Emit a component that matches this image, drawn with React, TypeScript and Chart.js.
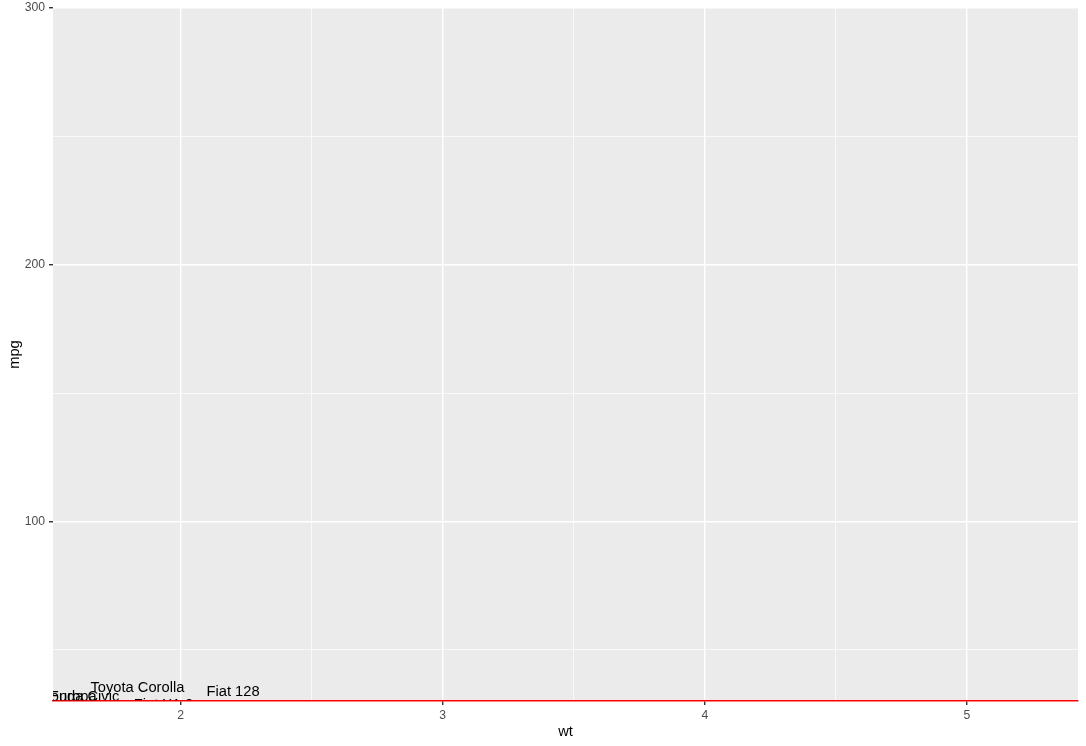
import { useEffect, useRef } from "react";
import { Chart, registerables, type Plugin } from "chart.js";

Chart.register(...registerables);

// mtcars: car names, weight (1000 lbs) and miles per gallon
const CARS = [
  "Mazda RX4", "Mazda RX4 Wag", "Datsun 710", "Hornet 4 Drive", "Hornet Sportabout",
  "Valiant", "Duster 360", "Merc 240D", "Merc 230", "Merc 280", "Merc 280C",
  "Merc 450SE", "Merc 450SL", "Merc 450SLC", "Cadillac Fleetwood", "Lincoln Continental",
  "Chrysler Imperial", "Fiat 128", "Honda Civic", "Toyota Corolla", "Toyota Corona",
  "Dodge Challenger", "AMC Javelin", "Camaro Z28", "Pontiac Firebird", "Fiat X1-9",
  "Porsche 914-2", "Lotus Europa", "Ford Pantera L", "Ferrari Dino", "Maserati Bora",
  "Volvo 142E",
];
const WT = [
  2.62, 2.875, 2.32, 3.215, 3.44, 3.46, 3.57, 3.19, 3.15, 3.44, 3.44,
  4.07, 3.73, 3.78, 5.25, 5.424, 5.345, 2.2, 1.615, 1.835, 2.465,
  3.52, 3.435, 3.84, 3.845, 1.935, 2.14, 1.513, 3.17, 2.77, 3.57, 2.78,
];
const MPG = [
  21.0, 21.0, 22.8, 21.4, 18.7, 18.1, 14.3, 24.4, 22.8, 19.2, 17.8,
  16.4, 17.3, 15.2, 10.4, 10.4, 14.7, 32.4, 30.4, 33.9, 21.5,
  15.5, 15.2, 13.3, 19.2, 27.3, 26.0, 30.4, 15.8, 19.7, 15.0, 21.4,
];

const X_TICKS = [2, 2.5, 3, 3.5, 4, 4.5, 5];
const Y_TICKS = [50, 100, 150, 200, 250, 300];
const X_RANGE = [1.513, 5.424];
const Y_RANGE = [30, 300];

const FONT = '"Liberation Sans", Arial, sans-serif';

const panelBg: Plugin = {
  id: "panelBg",
  beforeDraw(chart) {
    const { ctx, chartArea: a } = chart;
    ctx.save();
    ctx.fillStyle = "#EBEBEB";
    ctx.fillRect(a.left, a.top, a.right - a.left, a.bottom - a.top);
    ctx.restore();
  },
};

// geom_text style labels, clipped to the panel
const textLabels: Plugin = {
  id: "textLabels",
  afterDatasetsDraw(chart) {
    const { ctx, chartArea: a } = chart;
    const meta = chart.getDatasetMeta(0);
    ctx.save();
    ctx.beginPath();
    ctx.rect(a.left, a.top, a.right - a.left, a.bottom - a.top - 0.7);
    ctx.clip();
    ctx.font = `14.7px ${FONT}`;
    ctx.fillStyle = "#000000";
    ctx.textAlign = "center";
    ctx.textBaseline = "middle";
    meta.data.forEach((pt, i) => {
      ctx.fillText(CARS[i], pt.x, pt.y - 3);
    });
    ctx.restore();
  },
};

const isMajorX = (v: number) => Number.isInteger(v);
const isMajorY = (v: number) => v % 100 === 0;

export default function App() {
  const canvasRef = useRef<HTMLCanvasElement>(null);

  useEffect(() => {
    if (!canvasRef.current) return;
    const chart = new Chart(canvasRef.current, {
      type: "scatter",
      data: {
        datasets: [
          {
            label: "cars",
            data: WT.map((w, i) => ({ x: w, y: MPG[i] })),
            pointRadius: 0,
            pointHoverRadius: 0,
          },
        ],
      },
      options: {
        animation: false,
        responsive: true,
        maintainAspectRatio: false,
        layout: { padding: { top: 8, right: 8, left: 0, bottom: 0 } },
        plugins: { legend: { display: false }, tooltip: { enabled: false } },
        scales: {
          x: {
            type: "linear",
            min: X_RANGE[0],
            max: X_RANGE[1],
            afterBuildTicks: (s) => {
              s.ticks = X_TICKS.map((v) => ({ value: v }));
            },
            afterFit: (s) => {
              s.height = 45;
              s.paddingLeft = 0;
              s.paddingRight = 0;
            },
            grid: {
              color: "#FFFFFF",
              lineWidth: (c) => (c.tick && isMajorX(c.tick.value) ? 1.42 : 0.71),
              tickColor: (c) => (c.tick && isMajorX(c.tick.value) ? "#333333" : "rgba(0,0,0,0)"),
              tickWidth: 1.42,
              tickLength: 4,
            },
            border: { display: true, color: "#FF0000", width: 1.4 },
            ticks: {
              autoSkip: false,
              maxRotation: 0,
              padding: 3,
              color: "#4D4D4D",
              font: { family: FONT, size: 12.2 },
              callback: (v) => (isMajorX(Number(v)) ? String(v) : ""),
            },
            title: {
              display: true,
              text: "wt",
              color: "#000000",
              font: { family: FONT, size: 14.7 },
              padding: { top: 4, bottom: 5 },
            },
          },
          y: {
            type: "linear",
            min: Y_RANGE[0],
            max: Y_RANGE[1],
            afterBuildTicks: (s) => {
              s.ticks = Y_TICKS.map((v) => ({ value: v }));
            },
            afterFit: (s) => {
              s.width = 53;
              s.paddingTop = 0;
              s.paddingBottom = 0;
            },
            grid: {
              color: "#FFFFFF",
              lineWidth: (c) => (c.tick && isMajorY(c.tick.value) ? 1.42 : 0.71),
              tickColor: (c) => (c.tick && isMajorY(c.tick.value) ? "#333333" : "rgba(0,0,0,0)"),
              tickWidth: 1.42,
              tickLength: 4,
            },
            border: { display: false },
            ticks: {
              autoSkip: false,
              padding: 4,
              color: "#4D4D4D",
              font: { family: FONT, size: 12.2 },
              callback: (v) => (isMajorY(Number(v)) ? String(v) : ""),
            },
            title: {
              display: true,
              text: "mpg",
              color: "#000000",
              font: { family: FONT, size: 14.7 },
              padding: { top: 6, bottom: 4 },
            },
          },
        },
      },
      plugins: [panelBg, textLabels],
    });
    return () => chart.destroy();
  }, []);

  return (
    <div style={{ position: "absolute", left: 0, top: 0, width: 1086, height: 746, background: "#FFFFFF" }}>
      <canvas ref={canvasRef} />
    </div>
  );
}
